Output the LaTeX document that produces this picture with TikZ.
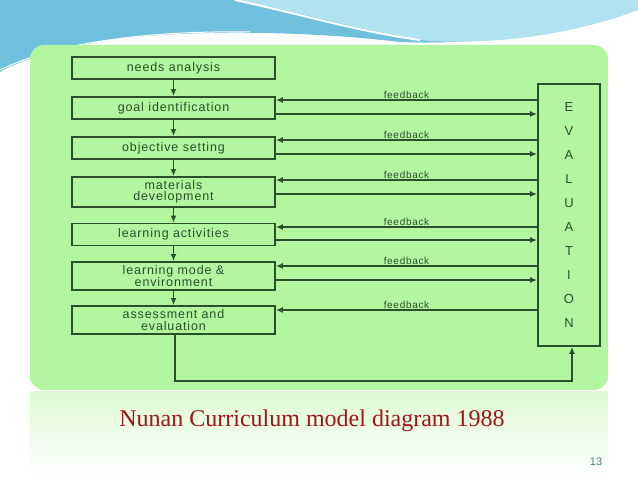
\documentclass[tikz,border=0pt]{standalone}
\usepackage{fontspec}
\setmainfont{Liberation Sans}
\newfontfamily\widefont[LetterSpace=7]{Liberation Sans}
\newfontfamily\titlefont{Liberation Serif}
\usetikzlibrary{arrows.meta}
\definecolor{panel}{HTML}{B4F5A0}
\definecolor{ink}{HTML}{2A4F2A}
\definecolor{sky}{HTML}{6EC0DD}
\definecolor{skylight}{HTML}{B0E2F0}
\definecolor{titlered}{HTML}{A0141A}
\tikzset{
  stage/.style={draw=ink, line width=1.8pt, minimum width=203pt, align=center, font=\widefont\fontsize{12.5}{11.5}\selectfont, text=ink, inner sep=1pt},
  link/.style={draw=ink, line width=1.4pt, -{Latex[length=7pt,width=6pt]}},
  fb/.style={font=\widefont\fontsize{10}{10}\selectfont, text=ink, inner sep=1pt, above}
}
\begin{document}
\begin{tikzpicture}[x=1pt,y=-1pt]
\useasboundingbox (0,0) rectangle (638,478);
% header swoosh
\fill[sky] (0,0) -- (638,0) -- (638,8) .. controls (560,35) and (470,45) .. (400,42)
  .. controls (300,30) and (180,30) .. (110,40) .. controls (60,48) and (20,60) .. (0,72) -- cycle;
\fill[skylight] (235,0) -- (638,0) -- (638,10) .. controls (560,40) and (470,45) .. (420,40)
  .. controls (360,30) and (300,12) .. (235,0) -- cycle;
\draw[white, line width=2pt] (235,0) .. controls (300,14) and (360,32) .. (420,40);
\draw[white, line width=1pt] (0,70) .. controls (40,50) and (120,30) .. (250,32);
% panel and reflection
\shade[top color=panel!45, bottom color=white] (30,392) rectangle (608,478);
\fill[panel, rounded corners=14pt] (30,45) rectangle (608,390);
% stages
\node[stage, minimum height=22pt] (s1) at (173.5,68) {needs analysis};
\node[stage, minimum height=22pt] (s2) at (173.5,108) {goal identification};
\node[stage, minimum height=22pt] (s3) at (173.5,148) {objective setting};
\node[stage, minimum height=30pt] (s4) at (173.5,192) {materials\\development};
\node[stage, minimum height=22pt] (s5) at (173.5,234.5) {learning activities};
\node[stage, minimum height=28pt] (s6) at (173.5,276) {learning mode \&\\environment};
\node[stage, minimum height=28pt] (s7) at (173.5,320) {assessment and\\evaluation};
\node[draw=ink, line width=1.8pt, minimum width=62pt, minimum height=262pt, align=center, text=ink,
  font=\fontsize{13}{24}\selectfont] (ev) at (569,215) {E\\V\\A\\L\\U\\A\\T\\I\\O\\N};
\foreach \a/\b in {s1/s2,s2/s3,s3/s4,s4/s5,s5/s6,s6/s7} \draw[link] (\a) -- (\b);
% feedback arrows
\foreach \s/\y in {s2/100,s3/140,s4/180,s5/227,s6/266,s7/310}
  \draw[link] (ev.west |- 0,\y) -- node[fb]{feedback} (\s.east |- 0,\y);
\foreach \s/\y in {s2/114,s3/154,s4/194,s5/240,s6/280}
  \draw[link] (\s.east |- 0,\y) -- (ev.west |- 0,\y);
\coordinate (c1) at (175,381);
\coordinate (c2) at (572,381);
\draw[link] (s7.south -| c1) -- (c1) -- (c2) -- (c2 |- ev.south);
% title
\node[font=\titlefont\fontsize{24}{24}\selectfont, text=titlered] (title) at (312,421) {Nunan Curriculum model diagram 1988};
\node[font=\fontsize{11}{11}\selectfont, text=gray!60!teal] (pg) at (596,462) {13};
\end{tikzpicture}
\end{document}
